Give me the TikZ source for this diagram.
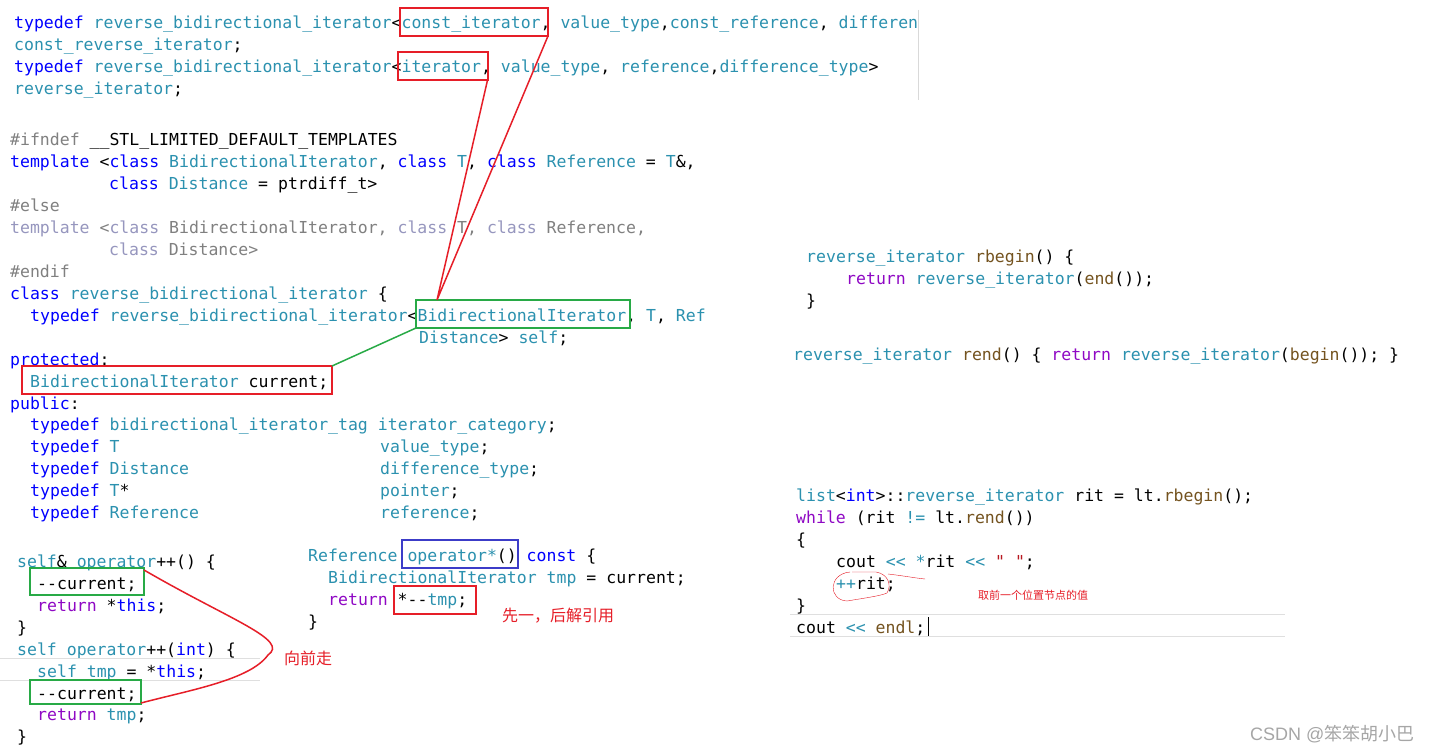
\documentclass[tikz,border=0pt]{standalone}
\usepackage{fontspec}
\setmonofont{DejaVu Sans Mono}[Scale=1]
\newfontfamily\cjk{Noto Sans CJK SC}
\definecolor{kw}{RGB}{0,0,255}
\definecolor{ty}{RGB}{43,145,175}
\definecolor{fnc}{RGB}{116,83,31}
\definecolor{pur}{RGB}{143,8,196}
\definecolor{grc}{RGB}{128,128,128}
\definecolor{lgr}{RGB}{150,150,190}
\definecolor{rbox}{RGB}{230,30,40}
\definecolor{gbox}{RGB}{40,170,70}
\definecolor{bbox}{RGB}{60,60,200}
\newcommand{\kw}[1]{\textcolor{kw}{#1}}
\newcommand{\ty}[1]{\textcolor{ty}{#1}}
\newcommand{\fn}[1]{\textcolor{fnc}{#1}}
\newcommand{\pu}[1]{\textcolor{pur}{#1}}
\newcommand{\gr}[1]{\textcolor{grc}{#1}}
\newcommand{\cl}[4]{\node[code] (#1) at (#2,#3) {#4};}
\begin{document}
\begin{tikzpicture}[x=1pt,y=-1pt,
  code/.style={anchor=base west,inner sep=0pt,yshift=-2pt,font=\ttfamily\fontsize{16.5}{18}\selectfont},
  rb/.style={draw=rbox,line width=2pt},
  gb/.style={draw=gbox,line width=2pt},
  bb/.style={draw=bbox,line width=2pt},
  note/.style={anchor=base west,inner sep=0pt,text=rbox,font=\cjk\fontsize{16}{18}\selectfont}]
\useasboundingbox (0,0) rectangle (1434,751);
\fill[white] (0,0) rectangle (1434,751);
% top
\cl{a1}{14}{27}{\kw{typedef} \ty{reverse\_bidirectional\_iterator}<\ty{const\_iterator}, \ty{value\_type},\ty{const\_reference}, \ty{differen}}
\cl{a2}{14}{49}{\ty{const\_reverse\_iterator};}
\cl{a3}{14}{71}{\kw{typedef} \ty{reverse\_bidirectional\_iterator}<\ty{iterator}, \ty{value\_type}, \ty{reference},\ty{difference\_type}>}
\cl{a4}{14}{93}{\ty{reverse\_iterator};}
\draw[gray!30] (918,10) -- (918,100);
\cl{b1}{10}{144}{\gr{\#ifndef} \_\_STL\_LIMITED\_DEFAULT\_TEMPLATES}
\cl{b2}{10}{166}{\kw{template} <\kw{class} \ty{BidirectionalIterator}, \kw{class} \ty{T}, \kw{class} \ty{Reference} = \ty{T}\&,}
\cl{b3}{109}{188}{\kw{class} \ty{Distance} = ptrdiff\_t>}
\cl{b4}{10}{210}{\gr{\#else}}
\cl{b5}{10}{232}{\textcolor{lgr}{template} \gr{<}\textcolor{lgr}{class} \gr{BidirectionalIterator,} \textcolor{lgr}{class} \gr{T,} \textcolor{lgr}{class} \gr{Reference,}}
\cl{b6}{109}{254}{\textcolor{lgr}{class} \gr{Distance>}}
\cl{b7}{10}{275}{\gr{\#endif}}
\cl{c1}{10}{297}{\kw{class} \ty{reverse\_bidirectional\_iterator} \{}
\cl{c2}{30}{319}{\kw{typedef} \ty{reverse\_bidirectional\_iterator}<\ty{BidirectionalIterator}, \ty{T}, \ty{Ref}}
\cl{c3}{419}{341}{\ty{Distance}> \ty{self};}
\cl{c4}{10}{363}{\kw{protected}:}
\cl{c5}{30}{385}{\ty{BidirectionalIterator} current;}
\cl{c6}{10}{407}{\kw{public}:}
\cl{d1}{30}{428}{\kw{typedef} \ty{bidirectional\_iterator\_tag} \ty{iterator\_category};}
\cl{d2}{30}{450}{\kw{typedef} \ty{T}}
\cl{d3}{30}{472}{\kw{typedef} \ty{Distance}}
\cl{d4}{30}{494}{\kw{typedef} \ty{T}*}
\cl{d5}{30}{516}{\kw{typedef} \ty{Reference}}
\cl{e2}{380}{450}{\ty{value\_type};}
\cl{e3}{380}{472}{\ty{difference\_type};}
\cl{e4}{380}{494}{\ty{pointer};}
\cl{e5}{380}{516}{\ty{reference};}
% right
\cl{r1}{806}{260}{\ty{reverse\_iterator} \fn{rbegin}() \{}
\cl{r2}{846}{282}{\pu{return} \ty{reverse\_iterator}(\fn{end}());}
\cl{r3}{806}{304}{\}}
\cl{r4}{793}{358}{\ty{reverse\_iterator} \fn{rend}() \{ \pu{return} \ty{reverse\_iterator}(\fn{begin}()); \}}
\cl{s1}{796}{499}{\ty{list}<\kw{int}>::\ty{reverse\_iterator} rit = lt.\fn{rbegin}();}
\cl{s2}{796}{521}{\pu{while} (rit \textcolor{ty}{!=} lt.\fn{rend}())}
\cl{s3}{796}{543}{\{}
\cl{s4}{836}{565}{cout \textcolor{ty}{<<} \textcolor{ty}{*}rit \textcolor{ty}{<<} \textcolor{rbox!80!black}{" "};}
\cl{s5}{836}{587}{\textcolor{ty}{++}rit;}
\cl{s6}{796}{609}{\}}
\cl{s7}{796}{631}{cout \textcolor{ty}{<<} \fn{endl};}
\draw[gray!25] (790,614) -- (1285,614) (790,636) -- (1285,636);
\draw[black] (928,617) -- (928,636);
\draw[rbox,thin] (850,572) .. controls (828,574) and (828,600) .. (847,601) .. controls (865,598) and (880,596) .. (887,593) .. controls (892,585) and (888,574) .. (876,572) -- (852,572);
\draw[rbox,thin] (888,574) .. controls (905,576) and (915,578) .. (925,579);
\node[anchor=base west,inner sep=0pt,text=rbox,font=\cjk\fontsize{11}{12}\selectfont] (n3) at (978,599) {取前一个位置节点的值};
% bottom left
\cl{f1}{17}{565}{\ty{self}\& \ty{operator}++() \{}
\cl{f2}{37}{587}{--current;}
\cl{f3}{37}{609}{\pu{return} *\kw{this};}
\cl{f4}{17}{631}{\}}
\cl{f5}{17}{653}{\ty{self} \ty{operator}++(\kw{int}) \{}
\cl{f6}{37}{675}{\ty{self} \ty{tmp} = *\kw{this};}
\cl{f7}{37}{697}{--current;}
\cl{f8}{37}{718}{\pu{return} \ty{tmp};}
\cl{f9}{17}{740}{\}}
\draw[gray!25] (0,658) -- (260,658) (0,680) -- (260,680);
\cl{g1}{308}{559}{\ty{Reference} \ty{operator*}() \kw{const} \{}
\cl{g2}{328}{581}{\ty{BidirectionalIterator} \ty{tmp} = current;}
\cl{g3}{328}{603}{\pu{return} *--\ty{tmp};}
\cl{g4}{308}{625}{\}}
\node[note] (n1) at (284,664) {向前走};
\node[note] (n2) at (502,621) {先一，后解引用};
\node[anchor=base west,inner sep=0pt,text=gray!70,font=\fontspec{Liberation Sans}\fontsize{18}{20}\selectfont] (wm) at (1250,740) {CSDN @\cjk 笨笨胡小巴};
% boxes
\coordinate (k1) at (548,36);
\coordinate (k2) at (488,78);
\coordinate (k3) at (437,300);
\draw[rb] (400,8) rectangle (548,36);
\draw[rb] (398,52) rectangle (488,80);
\draw[gb] (416,300) rectangle (630,328);
\draw[rb] (22,366) rectangle (332,394);
\draw[rbox,line width=1.5pt] (k1) -- (k3) (k2) -- (k3);
\draw[gbox,line width=1.5pt] (332,366) -- (416,328);
\draw[gb] (30,568) rectangle (144,595);
\draw[gb] (30,680) rectangle (141,704);
\draw[bb] (402,540) rectangle (518,568);
\draw[rb] (394,586) rectangle (476,614);
\draw[rbox,line width=1.5pt] (144,570) .. controls (230,620) and (290,640) .. (268,655) .. controls (250,680) and (190,690) .. (141,703);
\end{tikzpicture}
\end{document}
